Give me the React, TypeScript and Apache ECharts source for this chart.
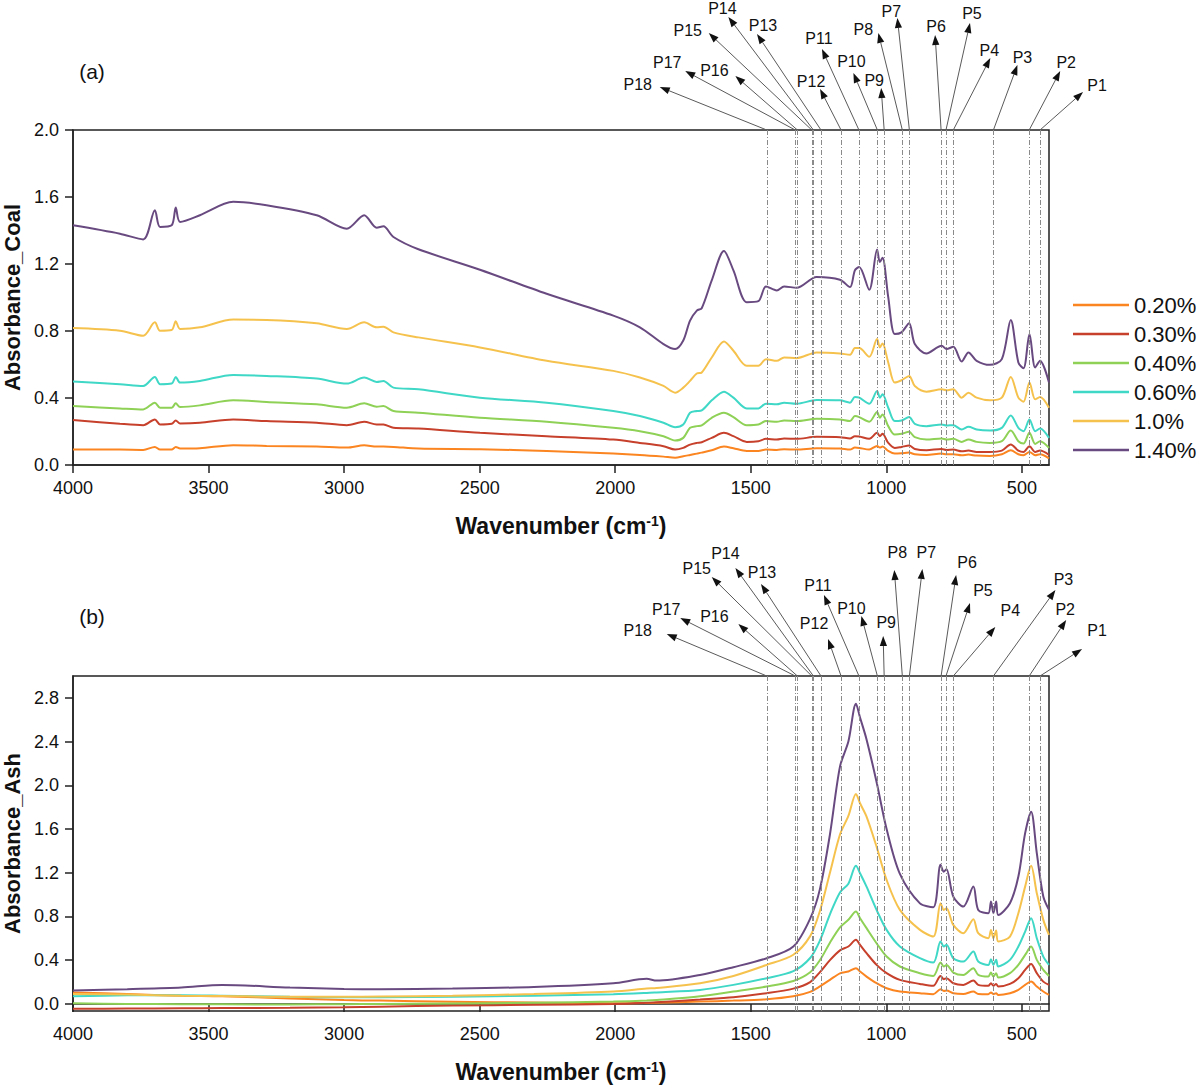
import React, { useEffect, useRef } from 'react';
import * as echarts from 'echarts';

const FONT = "'Liberation Sans', Arial, Helvetica, sans-serif";

// legend / series
const seriesNames = ['0.20%', '0.30%', '0.40%', '0.60%', '1.0%', '1.40%'];
const seriesColors = ['#fb8520', '#c6402b', '#8ed156', '#3fd7c6', '#f6c24e', '#694a80'];

// tick labels
const xTicks = [500, 1000, 1500, 2000, 2500, 3000, 3500, 4000];
const coalYTicks = [0, 0.4, 0.8, 1.2, 1.6, 2.0];
const ashYTicks = [0, 0.4, 0.8, 1.2, 1.6, 2.0, 2.4, 2.8];

// (a) coal spectra
const coalWn = [4000, 3827, 3741, 3698, 3679, 3636, 3621, 3605, 3532, 3409,
  3286, 3101, 2990, 2926, 2880, 2855, 2818, 2726, 2499, 2253,
  2007, 1909, 1822, 1779, 1749, 1724, 1699, 1681, 1644, 1599,
  1564, 1515, 1472, 1444, 1404, 1377, 1331, 1257, 1171, 1134,
  1116, 1100, 1063, 1034, 1024, 1014, 993, 969, 944, 916,
  895, 852, 796, 778, 753, 722, 697, 667, 618, 574,
  541, 513, 494, 472, 451, 433, 400];
const coal020 = [0.092, 0.092, 0.090, 0.108, 0.092, 0.092, 0.108, 0.098, 0.100, 0.118,
  0.114, 0.110, 0.104, 0.118, 0.110, 0.110, 0.108, 0.098, 0.094, 0.084,
  0.068, 0.060, 0.050, 0.044, 0.052, 0.060, 0.068, 0.074, 0.088, 0.110,
  0.100, 0.084, 0.084, 0.092, 0.090, 0.094, 0.092, 0.100, 0.098, 0.092,
  0.104, 0.102, 0.092, 0.114, 0.104, 0.110, 0.084, 0.068, 0.070, 0.074,
  0.064, 0.060, 0.068, 0.064, 0.064, 0.058, 0.062, 0.056, 0.054, 0.064,
  0.088, 0.064, 0.058, 0.078, 0.058, 0.064, 0.040];
const coal030 = [0.268, 0.246, 0.238, 0.272, 0.242, 0.246, 0.266, 0.248, 0.252, 0.272,
  0.262, 0.252, 0.238, 0.258, 0.242, 0.242, 0.222, 0.218, 0.192, 0.172,
  0.152, 0.132, 0.112, 0.092, 0.102, 0.122, 0.132, 0.136, 0.162, 0.192,
  0.172, 0.138, 0.142, 0.156, 0.152, 0.158, 0.156, 0.168, 0.166, 0.158,
  0.172, 0.170, 0.156, 0.192, 0.172, 0.186, 0.132, 0.102, 0.108, 0.116,
  0.096, 0.088, 0.096, 0.090, 0.092, 0.082, 0.086, 0.078, 0.078, 0.086,
  0.122, 0.086, 0.078, 0.112, 0.078, 0.086, 0.060];
const coal040 = [0.352, 0.338, 0.332, 0.372, 0.342, 0.342, 0.368, 0.346, 0.356, 0.386,
  0.376, 0.362, 0.342, 0.368, 0.348, 0.352, 0.322, 0.312, 0.282, 0.258,
  0.222, 0.202, 0.172, 0.146, 0.162, 0.222, 0.232, 0.236, 0.282, 0.312,
  0.286, 0.238, 0.242, 0.262, 0.258, 0.266, 0.262, 0.276, 0.272, 0.262,
  0.292, 0.286, 0.258, 0.316, 0.282, 0.302, 0.232, 0.182, 0.186, 0.198,
  0.166, 0.152, 0.158, 0.152, 0.156, 0.138, 0.152, 0.138, 0.132, 0.142,
  0.206, 0.142, 0.128, 0.192, 0.126, 0.142, 0.102];
const coal060 = [0.498, 0.482, 0.472, 0.526, 0.482, 0.486, 0.526, 0.492, 0.502, 0.538,
  0.532, 0.516, 0.486, 0.522, 0.496, 0.502, 0.462, 0.452, 0.402, 0.372,
  0.322, 0.292, 0.252, 0.226, 0.242, 0.312, 0.322, 0.326, 0.386, 0.438,
  0.402, 0.338, 0.338, 0.366, 0.362, 0.372, 0.366, 0.388, 0.386, 0.372,
  0.406, 0.402, 0.366, 0.442, 0.402, 0.422, 0.342, 0.262, 0.266, 0.286,
  0.246, 0.232, 0.242, 0.236, 0.238, 0.212, 0.228, 0.212, 0.206, 0.222,
  0.296, 0.222, 0.202, 0.272, 0.202, 0.218, 0.162];
const coal100 = [0.818, 0.802, 0.772, 0.852, 0.802, 0.806, 0.858, 0.812, 0.822, 0.868,
  0.866, 0.846, 0.812, 0.852, 0.822, 0.826, 0.792, 0.762, 0.702, 0.622,
  0.562, 0.522, 0.472, 0.432, 0.462, 0.502, 0.546, 0.552, 0.642, 0.738,
  0.682, 0.592, 0.592, 0.632, 0.622, 0.642, 0.638, 0.672, 0.666, 0.658,
  0.698, 0.698, 0.646, 0.752, 0.702, 0.726, 0.612, 0.492, 0.506, 0.532,
  0.472, 0.438, 0.452, 0.446, 0.452, 0.402, 0.432, 0.402, 0.386, 0.402,
  0.526, 0.402, 0.378, 0.492, 0.392, 0.406, 0.342];
const coal140 = [1.431, 1.381, 1.347, 1.521, 1.421, 1.431, 1.537, 1.451, 1.491, 1.571,
  1.551, 1.491, 1.411, 1.491, 1.417, 1.425, 1.361, 1.288, 1.166, 1.022,
  0.892, 0.822, 0.722, 0.692, 0.743, 0.862, 0.922, 0.936, 1.102, 1.277,
  1.162, 0.972, 0.978, 1.066, 1.042, 1.066, 1.058, 1.122, 1.106, 1.062,
  1.162, 1.182, 1.046, 1.286, 1.212, 1.238, 1.002, 0.782, 0.792, 0.846,
  0.722, 0.666, 0.712, 0.692, 0.706, 0.618, 0.672, 0.622, 0.598, 0.632,
  0.866, 0.612, 0.577, 0.782, 0.582, 0.622, 0.492];

// (b) ash spectra
const ashWn = [4000, 3800, 3600, 3450, 3200, 3000, 2868, 2600, 2300, 2007,
  1884, 1847, 1687, 1564, 1441, 1343, 1281, 1245, 1208, 1171,
  1140, 1112, 1097, 1073, 1036, 999, 950, 876, 827, 800,
  788, 778, 753, 716, 679, 661, 624, 614, 605, 595,
  587, 544, 513, 488, 466, 445, 421, 400];
const ash020 = [0.105, 0.090, 0.075, 0.070, 0.050, 0.035, 0.030, 0.020, 0.012, 0.006,
  0.008, 0.010, 0.021, 0.030, 0.043, 0.070, 0.110, 0.160, 0.220, 0.280,
  0.296, 0.327, 0.296, 0.250, 0.189, 0.143, 0.113, 0.098, 0.089, 0.134,
  0.119, 0.122, 0.098, 0.091, 0.113, 0.091, 0.089, 0.104, 0.089, 0.098,
  0.082, 0.098, 0.128, 0.174, 0.204, 0.159, 0.113, 0.082];
const ash030 = [-0.045, -0.043, -0.040, -0.038, -0.035, -0.030, -0.025, -0.015, -0.008, 0.000,
  0.010, 0.015, 0.040, 0.061, 0.098, 0.140, 0.200, 0.290, 0.400, 0.490,
  0.525, 0.586, 0.540, 0.464, 0.357, 0.281, 0.220, 0.183, 0.165, 0.256,
  0.226, 0.235, 0.189, 0.174, 0.213, 0.174, 0.165, 0.189, 0.165, 0.183,
  0.159, 0.183, 0.235, 0.311, 0.366, 0.281, 0.204, 0.174];
const ash040 = [0.005, 0.000, -0.003, -0.004, -0.005, -0.003, 0.000, 0.003, 0.010, 0.021,
  0.030, 0.035, 0.070, 0.113, 0.159, 0.210, 0.290, 0.400, 0.560, 0.700,
  0.770, 0.845, 0.784, 0.693, 0.555, 0.433, 0.342, 0.281, 0.256, 0.378,
  0.342, 0.357, 0.287, 0.265, 0.327, 0.265, 0.250, 0.287, 0.250, 0.281,
  0.241, 0.281, 0.357, 0.448, 0.525, 0.403, 0.311, 0.256];
const ash060 = [0.070, 0.078, 0.080, 0.075, 0.065, 0.060, 0.061, 0.065, 0.075, 0.089,
  0.100, 0.105, 0.128, 0.174, 0.235, 0.300, 0.420, 0.580, 0.820, 1.020,
  1.100, 1.263, 1.196, 1.073, 0.860, 0.677, 0.525, 0.418, 0.378, 0.570,
  0.525, 0.540, 0.418, 0.387, 0.479, 0.387, 0.357, 0.409, 0.357, 0.403,
  0.342, 0.403, 0.525, 0.662, 0.784, 0.601, 0.433, 0.357];
const ash100 = [0.090, 0.085, 0.075, 0.072, 0.065, 0.065, 0.067, 0.075, 0.090, 0.113,
  0.140, 0.145, 0.189, 0.256, 0.357, 0.450, 0.620, 0.850, 1.200, 1.550,
  1.720, 1.921, 1.836, 1.714, 1.439, 1.134, 0.860, 0.677, 0.616, 0.921,
  0.860, 0.875, 0.723, 0.647, 0.775, 0.647, 0.601, 0.677, 0.601, 0.671,
  0.570, 0.616, 0.830, 1.073, 1.263, 1.013, 0.769, 0.631];
const ash140 = [0.122, 0.135, 0.150, 0.174, 0.150, 0.137, 0.134, 0.140, 0.155, 0.189,
  0.229, 0.213, 0.265, 0.336, 0.418, 0.525, 0.780, 1.050, 1.550, 2.171,
  2.400, 2.745, 2.620, 2.420, 2.030, 1.600, 1.190, 0.920, 0.885, 1.272,
  1.210, 1.232, 0.982, 0.890, 1.073, 0.860, 0.830, 0.936, 0.830, 0.936,
  0.814, 0.921, 1.165, 1.562, 1.759, 1.379, 0.982, 0.860];

// assigned bands P1..P18
const peakWn = [433, 473, 605, 753, 780, 798, 915, 941, 1008, 1033, 1101, 1167, 1241, 1269, 1275, 1328, 1336, 1441];
const peakLabels = ['P1', 'P2', 'P3', 'P4', 'P5', 'P6', 'P7', 'P8', 'P9', 'P10', 'P11', 'P12', 'P13', 'P14', 'P15', 'P16', 'P17', 'P18'];

// arrow layout: tip offset from the top of the dashed line, label offset from the tip (px)
const coalArrowTips = [[43, -38], [31, -59], [24, -65], [37, -72], [24, -107], [-6, -95], [-12, -112], [-24, -97], [-3, -42],
  [-24, -57], [-37, -81], [-21, -41], [-64, -96], [-85, -113], [-103, -97], [-62, -54], [-110, -59], [-107, -43]];
const coalLabelShift = [[14, -7], [6, -9], [5, -8], [-1, -8], [2, -10], [1, -9], [-6, -7], [-15, -4], [-7, -8],
  [-2, -12], [-3, -11], [-9, -8], [6, -9], [-6, -9], [-21, -3], [-21, -6], [-18, -9], [-22, -3]];
const ashArrowTips = [[42, -27], [37, -56], [62, -86], [42, -49], [24, -73], [15, -101], [13, -107], [-8, -106], [-1, -40],
  [-16, -60], [-35, -81], [-13, -37], [-60, -92], [-78, -108], [-100, -99], [-59, -52], [-115, -58], [-100, -42]];
const ashLabelShift = [[15, -19], [-1, -11], [8, -11], [15, -17], [13, -13], [11, -13], [4, -17], [3, -18], [3, -14],
  [-10, -8], [-6, -10], [-14, -16], [1, -12], [-10, -15], [-15, -9], [-24, -8], [-14, -9], [-29, -4]];

const coalSets = [coal020, coal030, coal040, coal060, coal100, coal140];
const ashSets = [ash020, ash030, ash040, ash060, ash100, ash140];

const buildSeries = (wn: number[], sets: number[][], g: number) => {
  const lines = sets.map((vals, i) => ({
    name: seriesNames[i],
    type: 'line',
    xAxisIndex: g,
    yAxisIndex: g,
    data: wn.map((w, j) => [w, vals[j]]),
    showSymbol: false,
    symbol: 'none',
    smooth: 0.3,
    lineStyle: { width: 2, color: seriesColors[i] },
    itemStyle: { color: seriesColors[i] },
    emphasis: { disabled: true },
    z: 3
  }));
  // dashed band markers
  const marks = {
    type: 'line',
    xAxisIndex: g,
    yAxisIndex: g,
    data: [],
    silent: true,
    z: 2,
    markLine: {
      silent: true,
      symbol: ['none', 'none'],
      label: { show: false },
      lineStyle: { color: '#8a8a8a', width: 1, type: [5, 2, 1, 2] },
      data: peakWn.map(w => ({ xAxis: w }))
    }
  };
  return [...lines, marks];
};

const xAxisFor = (g: number) => ({
  gridIndex: g,
  type: 'value',
  min: 400,
  max: 4000,
  inverse: true,
  name: '{b|Wavenumber (cm}{s|-1}{b|)}',
  nameLocation: 'middle',
  nameGap: 49,
  nameTextStyle: {
    rich: {
      b: { fontSize: 23, fontWeight: 'bold', color: '#111', fontFamily: FONT },
      s: { fontSize: 14, fontWeight: 'bold', color: '#111', fontFamily: FONT, verticalAlign: 'top' }
    }
  },
  axisLine: { show: true, lineStyle: { color: '#222', width: 1.5 } },
  axisTick: { show: true, length: 8, inside: false, customValues: xTicks, lineStyle: { color: '#222', width: 1.5 } },
  axisLabel: {
    customValues: xTicks,
    fontSize: 18,
    color: '#111',
    margin: 14,
    fontFamily: FONT,
    formatter: (v: number) => String(v)
  },
  splitLine: { show: false }
});

const yAxisFor = (g: number, name: string, min: number, max: number, ticks: number[]) => ({
  gridIndex: g,
  type: 'value',
  min,
  max,
  name,
  nameLocation: 'middle',
  nameGap: 48,
  nameTextStyle: { fontSize: 22, fontWeight: 'bold', color: '#111', fontFamily: FONT },
  axisLine: { show: true, lineStyle: { color: '#222', width: 1.5 } },
  axisTick: { show: true, length: 8, inside: false, customValues: ticks, lineStyle: { color: '#222', width: 1.5 } },
  axisLabel: {
    customValues: ticks,
    fontSize: 18,
    color: '#111',
    margin: 14,
    fontFamily: FONT,
    formatter: (v: number) => v.toFixed(1)
  },
  splitLine: { show: false }
});

const App: React.FC = () => {
  const chartRef = useRef<HTMLDivElement>(null);

  useEffect(() => {
    if (!chartRef.current) return;
    const chart = echarts.init(chartRef.current, null, { renderer: 'svg' });

    const gridBase = { left: 73, width: 976, height: 335, show: true, borderColor: '#222', borderWidth: 1.5, containLabel: false, outerBoundsMode: 'none' };

    const option: any = {
      animation: false,
      backgroundColor: '#fff',
      textStyle: { fontFamily: FONT },
      grid: [
        { ...gridBase, top: 130 },
        { ...gridBase, top: 676 }
      ],
      xAxis: [xAxisFor(0), xAxisFor(1)],
      yAxis: [
        yAxisFor(0, 'Absorbance_Coal', 0, 2.0, coalYTicks),
        yAxisFor(1, 'Absorbance_Ash', -0.065, 3.0, ashYTicks)
      ],
      legend: {
        data: seriesNames.map(n => ({ name: n, icon: 'rect' })),
        orient: 'vertical',
        left: 1068,
        top: 289,
        itemWidth: 56,
        itemHeight: 2.5,
        itemGap: 7,
        selectedMode: false,
        textStyle: { fontSize: 22, color: '#111', fontFamily: FONT, lineHeight: 22 }
      },
      series: [...buildSeries(coalWn, coalSets, 0), ...buildSeries(ashWn, ashSets, 1)]
    };
    chart.setOption(option);

    // arrows with band labels above each panel
    const arrows = (g: number, yTop: number, tips: number[][], shifts: number[][]) => {
      const els: any[] = [];
      peakWn.forEach((w, i) => {
        const [bx, by] = chart.convertToPixel({ gridIndex: g }, [w, yTop]) as number[];
        const tx = bx + tips[i][0];
        const ty = by + tips[i][1];
        const len = Math.hypot(tx - bx, ty - by);
        const ux = (tx - bx) / len;
        const uy = (ty - by) / len;
        const hx = tx - ux * 10;
        const hy = ty - uy * 10;
        els.push({
          type: 'line', silent: true,
          shape: { x1: bx, y1: by, x2: hx, y2: hy },
          style: { stroke: '#5a5a5a', lineWidth: 1 }
        });
        els.push({
          type: 'polygon', silent: true,
          shape: { points: [[tx, ty], [hx - uy * 3.6, hy + ux * 3.6], [hx + uy * 3.6, hy - ux * 3.6]] },
          style: { fill: '#111' }
        });
        els.push({
          type: 'text', silent: true,
          x: tx + shifts[i][0],
          y: ty + shifts[i][1],
          style: {
            text: peakLabels[i], fill: '#111', fontSize: 16, fontFamily: FONT,
            align: 'center', verticalAlign: 'middle', textAlign: 'center', textVerticalAlign: 'middle'
          }
        });
      });
      return els;
    };

    const panelTag = (text: string, x: number, y: number) => ({
      type: 'text', silent: true, x, y,
      style: {
        text, fill: '#111', fontSize: 21, fontFamily: FONT,
        align: 'center', verticalAlign: 'middle', textAlign: 'center', textVerticalAlign: 'middle'
      }
    });

    chart.setOption({
      graphic: [
        panelTag('(a)', 92, 71),
        panelTag('(b)', 92, 616),
        ...arrows(0, 2.0, coalArrowTips, coalLabelShift),
        ...arrows(1, 3.0, ashArrowTips, ashLabelShift)
      ]
    });

    const handleResize = () => chart.resize();
    window.addEventListener('resize', handleResize);
    return () => {
      window.removeEventListener('resize', handleResize);
      chart.dispose();
    };
  }, []);

  return (
    <div
      ref={chartRef}
      style={{ position: 'absolute', left: 0, top: 0, width: 1200, height: 1090, background: '#fff' }}
    />
  );
};

export default App;
